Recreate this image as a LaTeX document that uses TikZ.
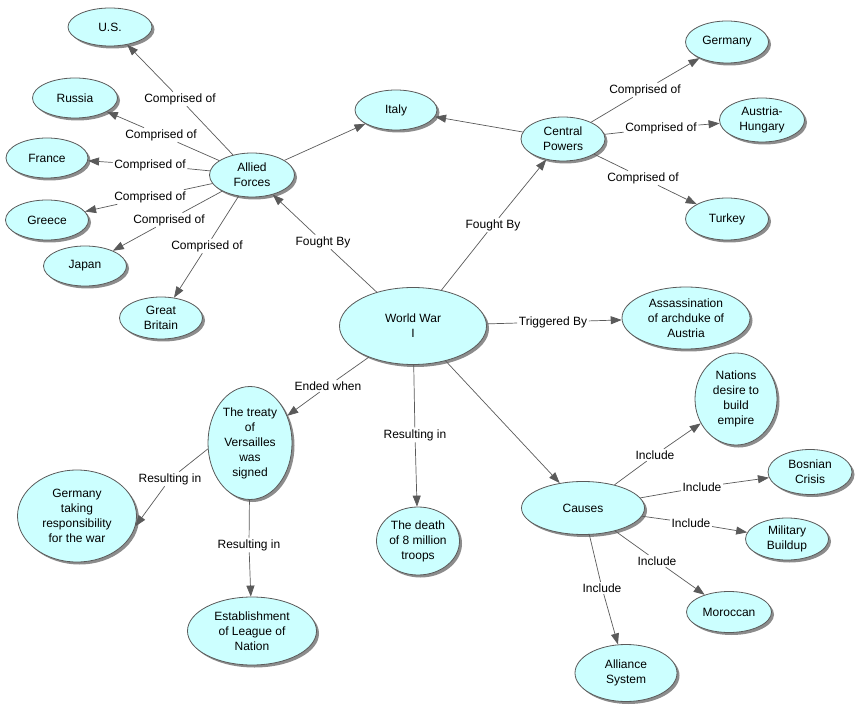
\documentclass[tikz,border=0pt]{standalone}
\usepackage{fontspec}
\setmainfont{Liberation Sans}
\usetikzlibrary{shapes.geometric,shadows,arrows.meta}
\definecolor{conceptfill}{RGB}{204,255,255}
\definecolor{conceptline}{RGB}{90,90,90}
\begin{document}
\begin{tikzpicture}[x=1pt,y=-1pt,
  concept/.style={ellipse,draw=conceptline,line width=0.8pt,fill=conceptfill,
    inner sep=0pt,align=center,font=\fontsize{12}{15}\selectfont,
    drop shadow={shadow xshift=2.5pt,shadow yshift=-2.5pt,fill=black!45,opacity=1}},
  linkname/.style={inner sep=1.5pt,font=\fontsize{12}{15}\selectfont},
  link/.style={draw=conceptline,line width=0.7pt},
  linkto/.style={link,-{Triangle[length=11pt,width=8pt]},conceptline}]
\useasboundingbox (0,0) rectangle (859,708);
% concepts
\node[concept,minimum width=147pt,minimum height=77pt] (ww) at (413,326) {World War\\I};
\node[concept,minimum width=85pt,minimum height=44pt] (allied) at (252,175) {Allied\\Forces};
\node[concept,minimum width=84pt,minimum height=44pt] (central) at (563,139) {Central\\Powers};
\node[concept,minimum width=82pt,minimum height=40pt] (italy) at (396,110) {Italy};
\node[concept,minimum width=84pt,minimum height=38pt] (us) at (110,27) {U.S.};
\node[concept,minimum width=85pt,minimum height=40pt] (russia) at (75,98) {Russia};
\node[concept,minimum width=82pt,minimum height=40pt] (france) at (47,158) {France};
\node[concept,minimum width=83pt,minimum height=40pt] (greece) at (47,220) {Greece};
\node[concept,minimum width=83pt,minimum height=40pt] (japan) at (85,266) {Japan};
\node[concept,minimum width=83pt,minimum height=42pt] (britain) at (161,318) {Great\\Britain};
\node[concept,minimum width=83pt,minimum height=42pt] (germany) at (727,42) {Germany};
\node[concept,minimum width=85pt,minimum height=44pt] (austria) at (762,120) {Austria-\\Hungary};
\node[concept,minimum width=83pt,minimum height=42pt] (turkey) at (727,219) {Turkey};
\node[concept,minimum width=128pt,minimum height=62pt] (archduke) at (686,318) {Assassination\\of archduke of\\Austria};
\node[concept,minimum width=84pt,minimum height=113pt] (treaty) at (250,443) {The treaty\\of\\Versailles\\was\\signed};
\node[concept,minimum width=119pt,minimum height=92pt] (blame) at (77,516) {Germany\\taking\\responsibility\\for the war};
\node[concept,minimum width=129pt,minimum height=68pt] (league) at (252,631) {Establishment\\of League of\\Nation};
\node[concept,minimum width=83pt,minimum height=68pt] (death) at (418,541) {The death\\of 8 million\\troops};
\node[concept,minimum width=123pt,minimum height=53pt] (causes) at (583,508) {Causes};
\node[concept,minimum width=82pt,minimum height=92pt] (empire) at (736,399) {Nations\\desire to\\build\\empire};
\node[concept,minimum width=84pt,minimum height=45pt] (bosnia) at (810,472) {Bosnian\\Crisis};
\node[concept,minimum width=83pt,minimum height=42pt] (buildup) at (787,539) {Military\\Buildup};
\node[concept,minimum width=85pt,minimum height=41pt] (morocco) at (729,612) {Moroccan};
\node[concept,minimum width=102pt,minimum height=57pt] (alliance) at (626,673) {Alliance\\System};
% link names
\node[linkname] (lus) at (180,99) {Comprised of};
\node[linkname] (lru) at (161,135) {Comprised of};
\node[linkname] (lfr) at (150,165) {Comprised of};
\node[linkname] (lgr) at (150,197) {Comprised of};
\node[linkname] (lja) at (169,220) {Comprised of};
\node[linkname] (lgb) at (207,246) {Comprised of};
\node[linkname] (lge) at (645,90) {Comprised of};
\node[linkname] (lau) at (661,128) {Comprised of};
\node[linkname] (ltu) at (643,178) {Comprised of};
\node[linkname] (lfa) at (323,242) {Fought By};
\node[linkname] (lfc) at (493,225) {Fought By};
\node[linkname] (ltr) at (553,322) {Triggered By};
\node[linkname] (len) at (328,386) {Ended when};
\node[linkname] (lde) at (415,435) {Resulting in};
\node[linkname] (lbl) at (170,479) {Resulting in};
\node[linkname] (lle) at (249,545) {Resulting in};
\node[linkname] (lem) at (655,455) {Include};
\node[linkname] (lbo) at (702,487) {Include};
\node[linkname] (lbu) at (691,523) {Include};
\node[linkname] (lmo) at (657,561) {Include};
\node[linkname] (lal) at (602,588) {Include};
% connectors
\foreach \src/\lab/\dst in {allied/lus/us,allied/lru/russia,allied/lfr/france,
  allied/lgr/greece,allied/lja/japan,allied/lgb/britain,
  central/lge/germany,central/lau/austria,central/ltu/turkey,
  ww/lfa/allied,ww/lfc/central,ww/ltr/archduke,ww/len/treaty,ww/lde/death,
  treaty/lle/league,
  causes/lem/empire,causes/lbo/bosnia,causes/lbu/buildup,causes/lmo/morocco,causes/lal/alliance} {
  \draw[link] (\src) -- (\lab);
  \draw[linkto] (\lab) -- (\dst);
}
\draw[link] (treaty.188) -- (lbl);
\draw[linkto] (lbl) -- (blame.-10);
\draw[linkto] (allied) -- (italy);
\draw[linkto] (central) -- (italy);
\draw[linkto] (ww) -- (causes);
\end{tikzpicture}
\end{document}
